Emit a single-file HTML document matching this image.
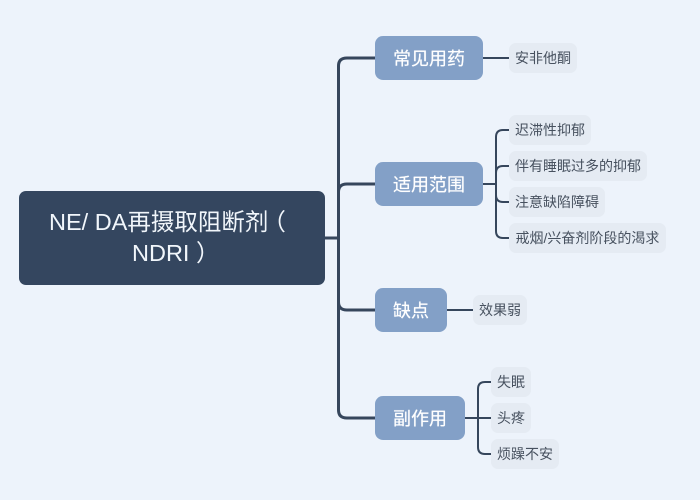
<!DOCTYPE html>
<html lang="zh">
<head>
<meta charset="utf-8">
<style>
html,body{margin:0;padding:0;background:#edf3fb;}
#c{position:relative;width:700px;height:500px;overflow:hidden;background:#edf3fb;font-family:"Liberation Sans","Noto Sans CJK SC",sans-serif;}
svg{position:absolute;left:0;top:0;}
.n{position:absolute;box-sizing:border-box;display:flex;align-items:center;justify-content:center;white-space:nowrap;text-align:center;}
.root{left:19px;top:191px;width:306px;height:94px;background:#34465f;border-radius:7px;}
.rt{position:absolute;white-space:nowrap;color:#f1f6fb;font-size:23.500px;line-height:31px;}
.b{left:375px;height:44px;background:#83a0c7;border-radius:8px;color:#fff;font-size:18px;text-shadow:0 0 .6px #fff;}
.l{height:30px;background:#e5ebf3;border-radius:7px;color:#47515f;font-size:14px;}
</style>
</head>
<body>
<div id="c">
<svg width="700" height="500" viewBox="0 0 700 500" fill="none" stroke="#36465c" stroke-linecap="butt">
  <path d="M325 238H339" stroke-width="3"/>
  <path d="M375 58H347Q338.500 58 338.500 66V410Q338.500 418 347 418H375" stroke-width="3"/>
  <path d="M338.500 192Q338.500 184 347 184H375" stroke-width="3"/>
  <path d="M338.500 302Q338.500 310 347 310H375" stroke-width="3"/>
  <g stroke-width="2">
    <path d="M483 58H509"/>
    <path d="M483 184H496"/>
    <path d="M509 130H503Q496 130 496 137V231Q496 238 503 238H509"/>
    <path d="M496 173Q496 166 503 166H509"/>
    <path d="M496 195Q496 202 503 202H509"/>
    <path d="M447 310H473"/>
    <path d="M465 418H491"/>
    <path d="M491 382H485Q478 382 478 389V447Q478 454 485 454H491"/>
  </g>
</svg>
<div class="n root"></div>
<div class="rt" style="left:49px;top:207px">NE/ DA再摄取阻断剂<span style="position:relative;left:-6px">（</span></div>
<div class="rt" style="left:132px;top:238px">NDRI ）</div>
<div class="n b" style="top:36px;width:108px">常见用药</div>
<div class="n b" style="top:162px;width:108px">适用范围</div>
<div class="n b" style="top:288px;width:72px">缺点</div>
<div class="n b" style="top:396px;width:90px">副作用</div>
<div class="n l" style="left:509px;top:43px;width:68px">安非他酮</div>
<div class="n l" style="left:509px;top:115px;width:82px">迟滞性抑郁</div>
<div class="n l" style="left:509px;top:151px;width:138px">伴有睡眠过多的抑郁</div>
<div class="n l" style="left:509px;top:187px;width:96px">注意缺陷障碍</div>
<div class="n l" style="left:509px;top:223px;width:157px">戒烟/兴奋剂阶段的渴求</div>
<div class="n l" style="left:473px;top:295px;width:54px">效果弱</div>
<div class="n l" style="left:491px;top:367px;width:40px">失眠</div>
<div class="n l" style="left:491px;top:403px;width:40px">头疼</div>
<div class="n l" style="left:491px;top:439px;width:68px">烦躁不安</div>
</div>
</body>
</html>
